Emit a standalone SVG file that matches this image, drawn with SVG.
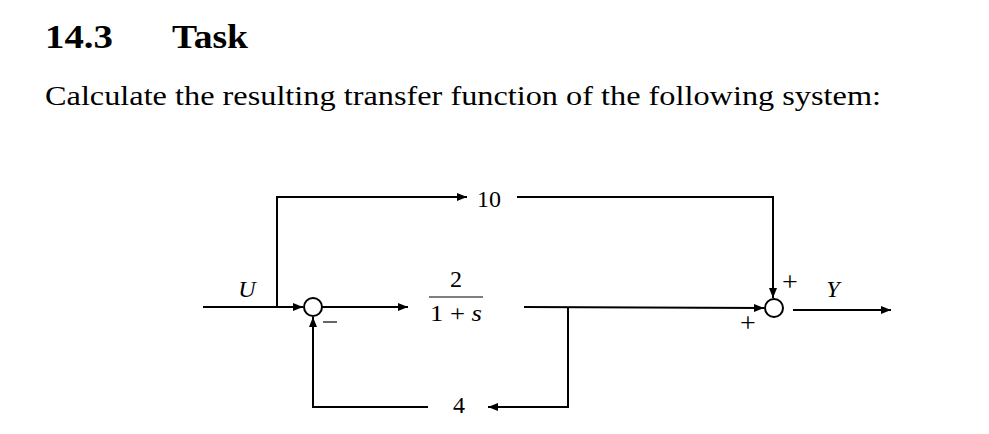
<svg xmlns="http://www.w3.org/2000/svg" width="989" height="434" viewBox="0 0 989 434">
<style>
.ln{fill:none;stroke:#000;stroke-width:2}
.t{font-family:"Liberation Serif","Times New Roman","DejaVu Serif",serif;fill:#000}
.it{font-style:italic}
.pm{font-family:"Liberation Serif","DejaVu Serif",serif;font-size:28px;fill:#000;text-anchor:middle}
</style>
<defs>
<marker id="ah" viewBox="0 0 10 10" refX="10" refY="5" markerWidth="5" markerHeight="5" orient="auto" markerUnits="strokeWidth">
<path d="M0,1 L10,5 L0,9 Z" fill="#000"/>
</marker>
</defs>
<rect width="989" height="434" fill="#fff"/>
<g id="title">
<text class="t" x="45" y="48" font-size="33" font-weight="bold" textLength="68" lengthAdjust="spacingAndGlyphs">14.3</text>
<text class="t" x="172" y="48" font-size="33" font-weight="bold" textLength="76" lengthAdjust="spacingAndGlyphs">Task</text>
<text class="t" x="45" y="105" font-size="28" textLength="836" lengthAdjust="spacingAndGlyphs">Calculate the resulting transfer function of the following system:</text>
</g>
<g id="connectors">
<path class="ln" d="M203,307 H303" marker-end="url(#ah)"/>
<path class="ln" d="M277,307 V197 H467" marker-end="url(#ah)"/>
<path class="ln" d="M322,307 H408" marker-end="url(#ah)"/>
<path class="ln" d="M517,197 H773 V298" marker-end="url(#ah)"/>
<path class="ln" d="M524,307 L764,308" marker-end="url(#ah)"/>
<path class="ln" d="M568,307 V407 H488" marker-end="url(#ah)"/>
<path class="ln" d="M428,407 H313 V317" marker-end="url(#ah)"/>
<path class="ln" d="M793,310 H891" marker-end="url(#ah)"/>
</g>
<g id="sum1">
<circle cx="313" cy="307" r="9" fill="#fff" stroke="#000" stroke-width="2"/>
<line x1="323" y1="322" x2="337" y2="322" stroke="#000" stroke-width="1.2"/>
</g>
<g id="sum2">
<circle cx="774" cy="308" r="9" fill="#fff" stroke="#000" stroke-width="2"/>
<text class="pm" x="790" y="291">+</text>
<text class="pm" x="748" y="332">+</text>
</g>
<g id="block10">
<text class="t" x="489" y="207" font-size="24" text-anchor="middle">10</text>
</g>
<g id="blockG">
<text class="t" x="456" y="287" font-size="24" text-anchor="middle">2</text>
<line x1="429" y1="297" x2="483" y2="297" stroke="#000" stroke-width="1.2"/>
<text class="t" x="456" y="321" font-size="24" text-anchor="middle" textLength="52" lengthAdjust="spacingAndGlyphs">1 + <tspan class="it">s</tspan></text>
</g>
<g id="block4">
<text class="t" x="459" y="413" font-size="24" text-anchor="middle">4</text>
</g>
<g id="labels">
<text class="t it" x="247" y="297" font-size="24" text-anchor="middle">U</text>
<text class="t it" x="833" y="297" font-size="24" text-anchor="middle">Y</text>
</g>
</svg>
